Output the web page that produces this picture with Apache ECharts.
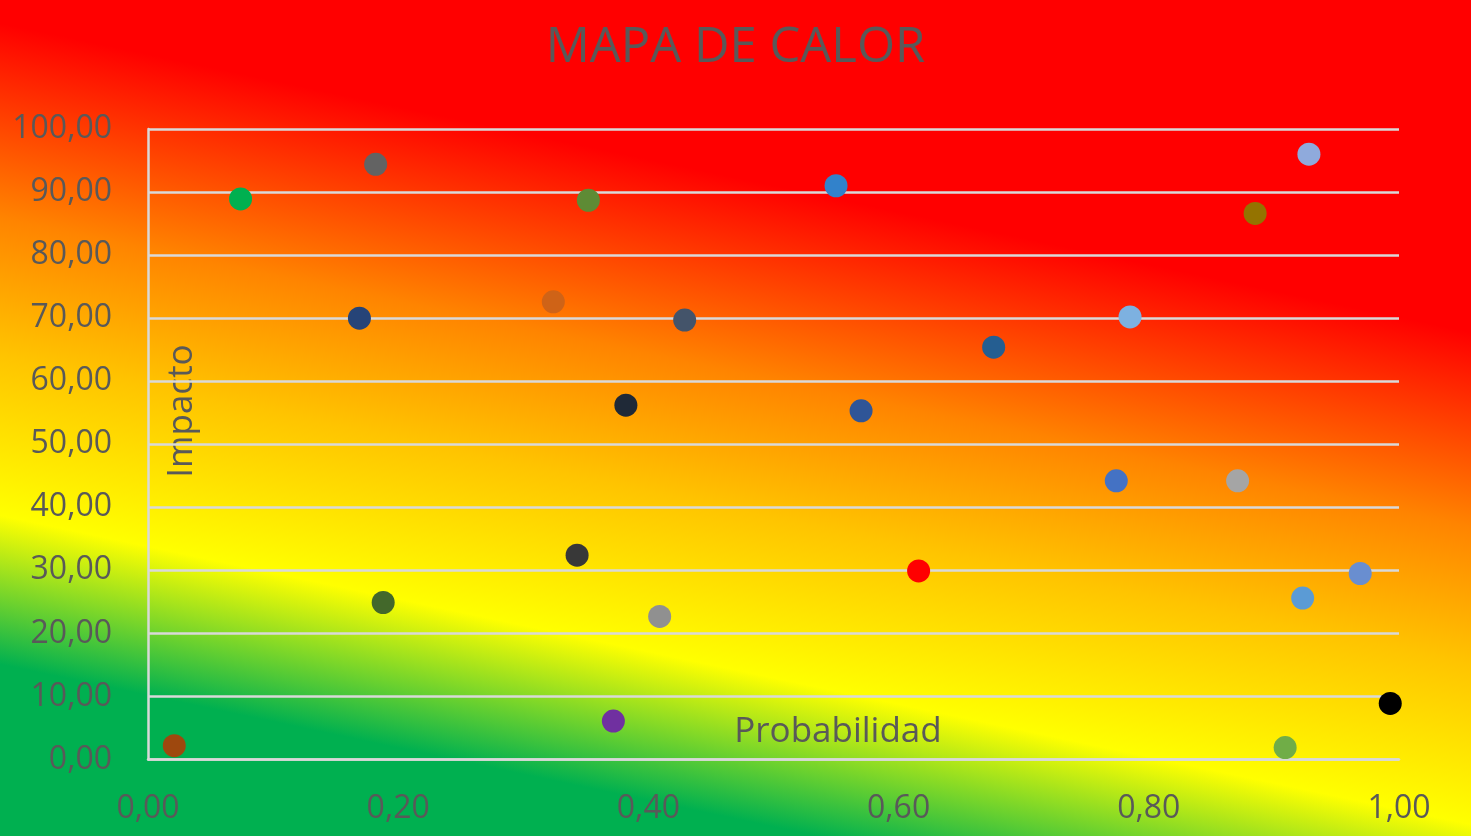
<!DOCTYPE html>
<html>
<head>
<meta charset="utf-8">
<title>MAPA DE CALOR</title>
<script src="https://cdn.jsdelivr.net/npm/echarts@6/dist/echarts.min.js"></script>
<style>
  html, body { margin: 0; padding: 0; }
  #main { width: 1471px; height: 836px; }
</style>
</head>
<body>
<div id="main"></div>
<script>
// datos del mapa de calor (cada punto es un riesgo)
var probabilidad = [0.021, 0.074, 0.182, 0.169, 0.188, 0.324, 0.352, 0.343, 0.382, 0.372, 0.409, 0.429,
  0.550, 0.570, 0.616, 0.676, 0.774, 0.785, 0.871, 0.885, 0.909, 0.923, 0.928, 0.969, 0.993];
var impacto = [2.2, 88.9, 94.4, 70.0, 24.9, 72.6, 88.7, 32.4, 56.2, 6.1, 22.7, 69.7,
  91.0, 55.3, 29.9, 65.4, 44.2, 70.2, 44.2, 86.6, 1.9, 25.6, 96.0, 29.5, 8.9];
var colores = ['#9E480E', '#00B050', '#636363', '#264478', '#43682B', '#CF6317', '#5E8B35', '#383838',
  '#1F2937', '#7030A0', '#909090', '#44546A', '#3282CB', '#2F5597', '#FF0000', '#255E91',
  '#4472C4', '#7DB1E0', '#A5A5A5', '#947300', '#70AD47', '#5B9BD5', '#8FAADC', '#698ED0', '#000000'];

var xTicks = { min: 0, max: 1, interval: 0.2 };
var yTicks = { min: 0, max: 100, interval: 10 };

var gris = '#595959';
var lineaGris = '#D9D9D9';
var fuente = '"Open Sans", "Noto Sans", sans-serif';

function coma(v) {
  return v.toFixed(2).replace('.', ',');
}

var puntos = [];
for (var i = 0; i < probabilidad.length; i++) {
  puntos.push({
    value: [probabilidad[i], impacto[i]],
    itemStyle: { color: colores[i], opacity: 1 }
  });
}

// fondo: degradado verde -> amarillo -> naranja -> rojo en diagonal
var fondo = new echarts.graphic.LinearGradient(0, 1, 0.1566, -0.3117, [
  { offset: 0, color: '#00B050' },
  { offset: 0.15, color: '#00B050' },
  { offset: 0.28, color: '#FFFF00' },
  { offset: 0.42, color: '#FFC400' },
  { offset: 0.54, color: '#FF8400' },
  { offset: 0.71, color: '#FF0000' },
  { offset: 1, color: '#FF0000' }
]);

var chart = echarts.init(document.getElementById('main'));

var option = {
  backgroundColor: fondo,
  animation: false,
  title: {
    text: 'MAPA DE CALOR',
    left: 'center',
    top: 19,
    textStyle: { color: gris, fontSize: 49, fontWeight: 'normal', fontFamily: fuente }
  },
  grid: { left: 148, right: 72, top: 129, bottom: 76.5 },
  xAxis: {
    type: 'value',
    min: xTicks.min,
    max: xTicks.max,
    interval: xTicks.interval,
    axisLine: { show: true, lineStyle: { color: lineaGris, width: 2.5 } },
    axisTick: { show: false },
    splitLine: { show: false },
    axisLabel: { color: gris, fontSize: 32, fontFamily: fuente, margin: 33, formatter: coma }
  },
  yAxis: {
    type: 'value',
    min: yTicks.min,
    max: yTicks.max,
    interval: yTicks.interval,
    axisLine: { show: true, lineStyle: { color: lineaGris, width: 2.5 } },
    axisTick: { show: false },
    splitLine: { show: true, lineStyle: { color: lineaGris, width: 2.5 } },
    axisLabel: { color: gris, fontSize: 32, fontFamily: fuente, margin: 36, formatter: coma }
  },
  graphic: [
    {
      type: 'text',
      x: 182,
      y: 411,
      rotation: Math.PI / 2,
      style: { text: 'Impacto', fill: gris, font: '35px ' + fuente, align: 'center', verticalAlign: 'middle',
        textAlign: 'center', textVerticalAlign: 'middle' }
    },
    {
      type: 'text',
      x: 838,
      y: 732,
      style: { text: 'Probabilidad', fill: gris, font: '35px ' + fuente, align: 'center', verticalAlign: 'middle',
        textAlign: 'center', textVerticalAlign: 'middle' }
    }
  ],
  series: [{
    type: 'scatter',
    symbol: 'circle',
    symbolSize: 23,
    itemStyle: { opacity: 1 },
    data: puntos
  }]
};

chart.setOption(option);
</script>
</body>
</html>
